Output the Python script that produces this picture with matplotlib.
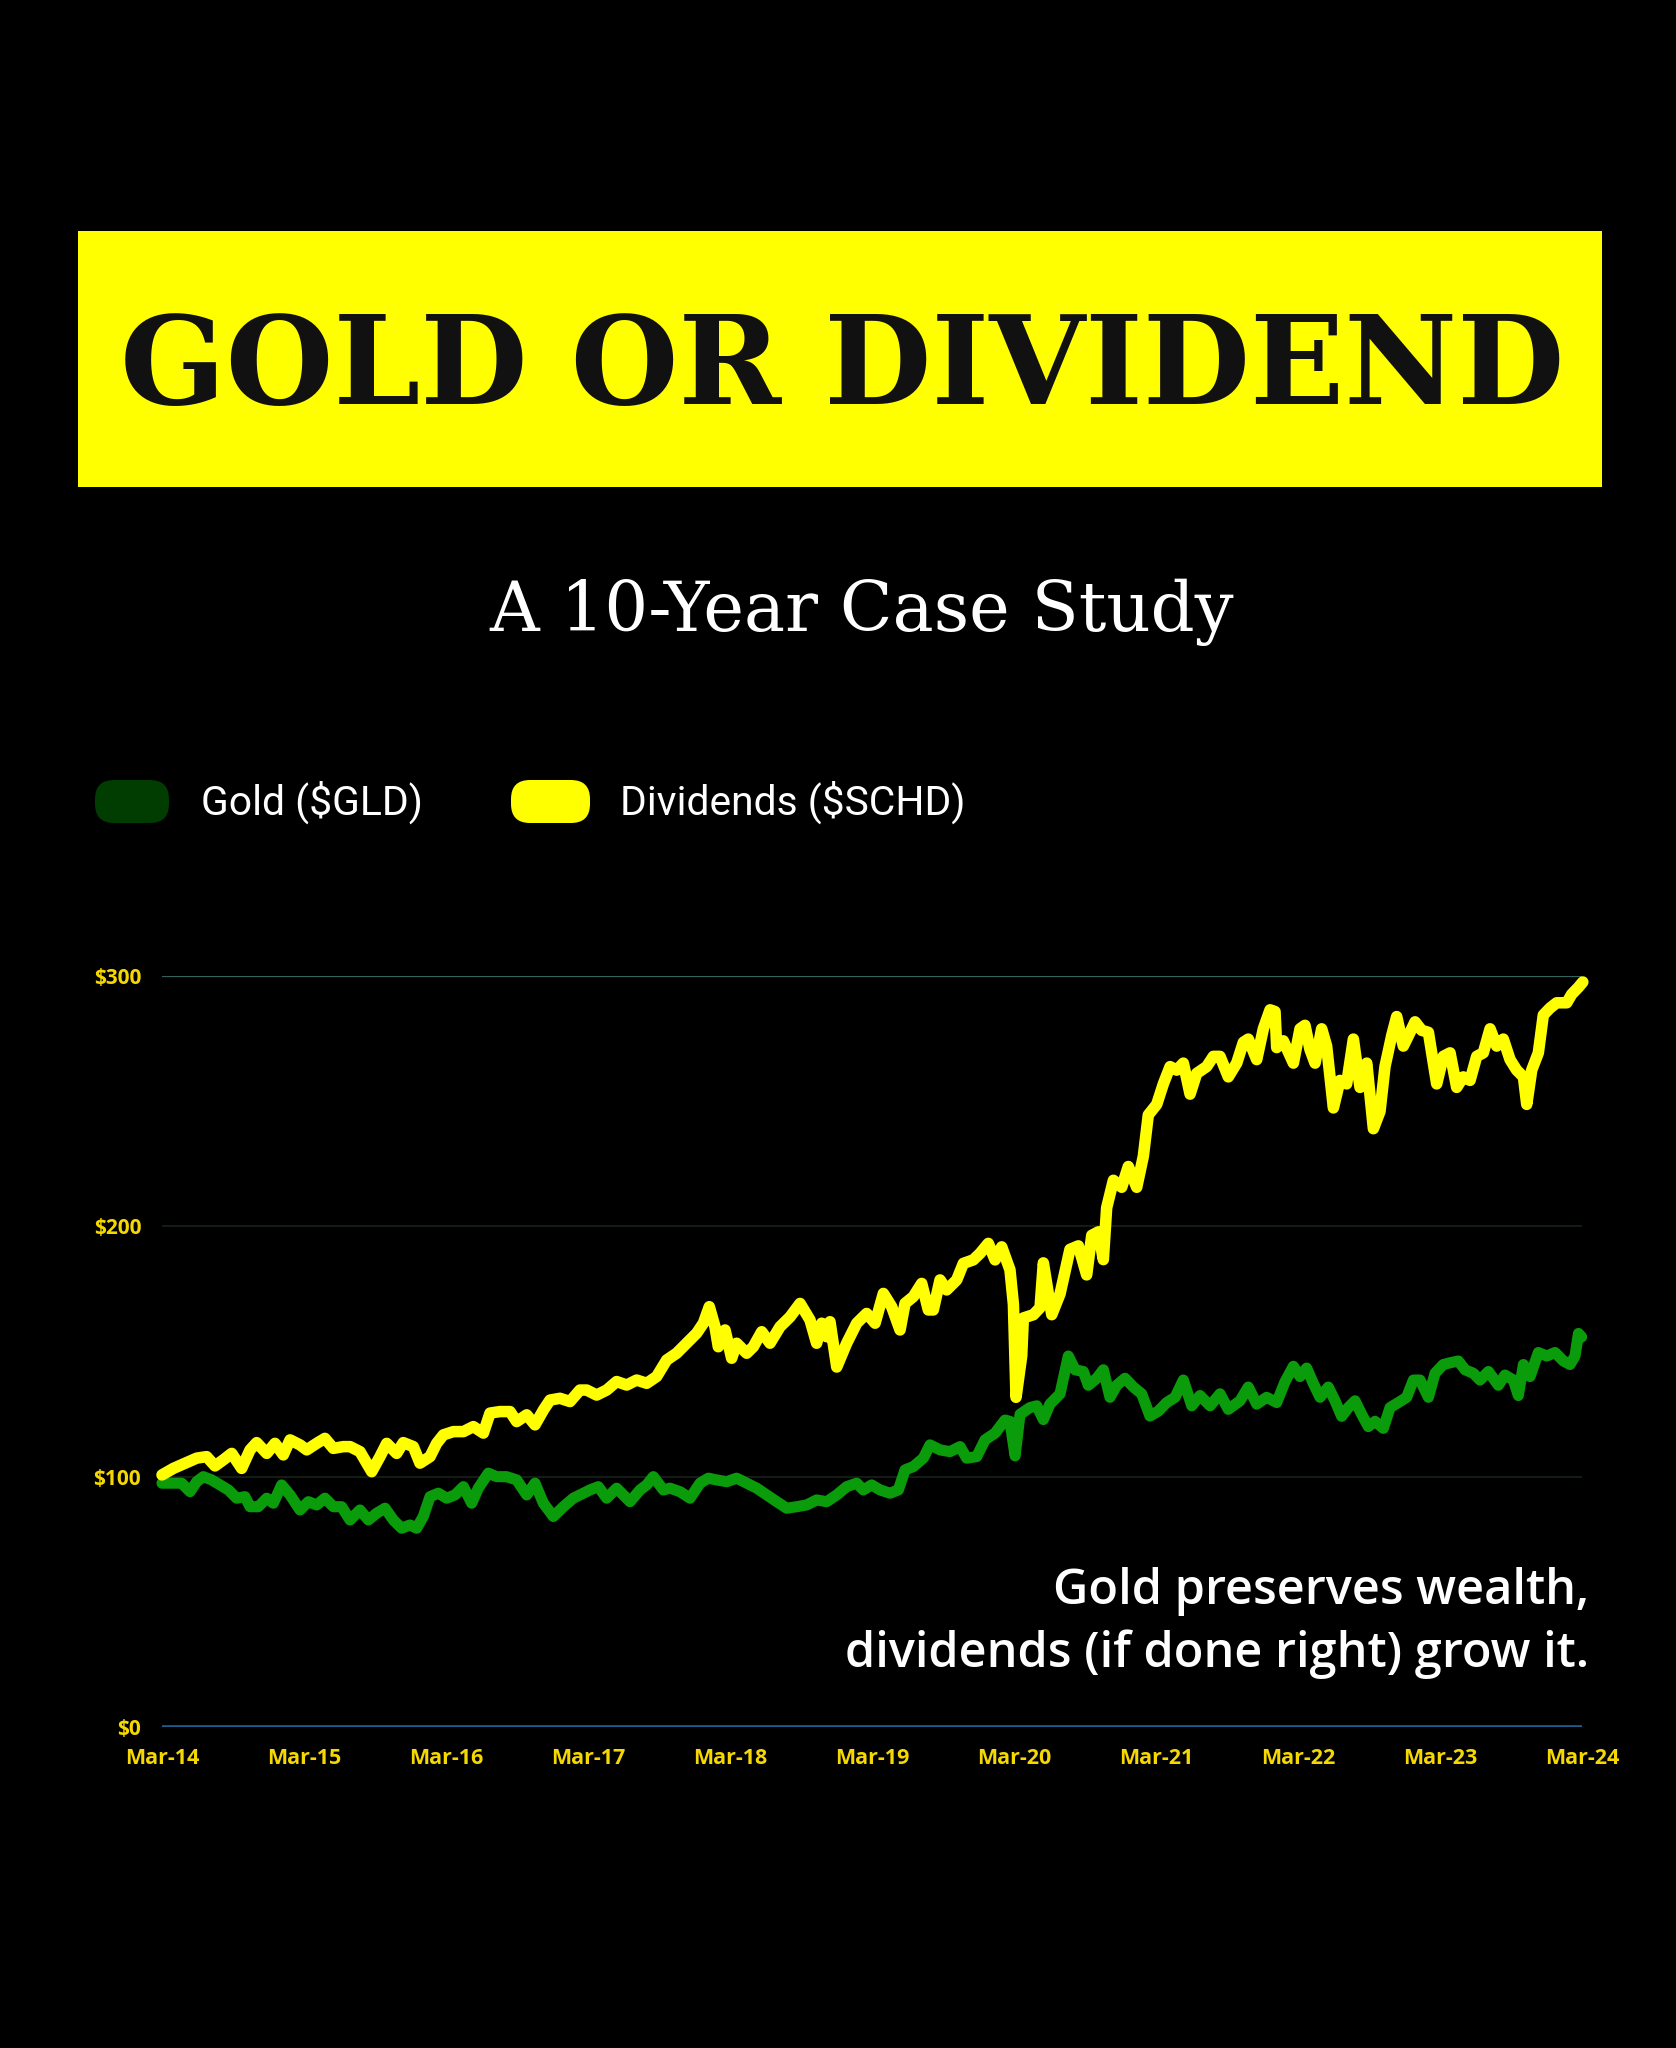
import matplotlib
matplotlib.use("Agg")
import matplotlib.pyplot as plt
from matplotlib.patches import FancyBboxPatch, Rectangle

W, H, DPI = 1676, 2048, 100

# ---------------- data ----------------
title_text = "GOLD OR DIVIDEND"
subtitle_text = "A 10-Year Case Study"
legend_labels = ["Gold ($GLD)", "Dividends ($SCHD)"]
note_lines = ["Gold preserves wealth,", "dividends (if done right) grow it."]

x_tick_months = [0, 12, 24, 36, 48, 60, 72, 84, 96, 108, 120]
x_tick_labels = ["Mar-14", "Mar-15", "Mar-16", "Mar-17", "Mar-18", "Mar-19",
                 "Mar-20", "Mar-21", "Mar-22", "Mar-23", "Mar-24"]
y_tick_values = [0, 100, 200, 300]
y_tick_labels = ["$0", "$100", "$200", "$300"]

# months since Mar-2014, value of $100 invested
schd_months = [0.00, 0.96, 1.97, 2.93, 3.77, 4.48, 5.18, 5.89, 6.73, 7.44, 8.00, 8.85,
               9.55, 10.25, 10.82, 11.66, 12.23, 13.07, 13.77, 14.48, 15.32, 15.89, 16.73,
               17.30, 17.72, 18.42, 18.99, 19.83, 20.39, 21.24, 21.80, 22.65, 23.21, 23.78,
               24.62, 25.47, 26.31, 27.16, 27.72, 28.56, 29.41, 29.97, 30.82, 31.52, 32.23,
               32.79, 33.63, 34.48,
               35.32, 35.89, 36.73, 37.58, 38.42, 39.27, 40.11, 40.96, 41.80, 42.65, 43.49,
               44.34, 45.18, 45.75, 46.25, 46.73, 47.01, 47.58, 48.14, 48.56, 49.41, 49.97,
               50.68, 51.38, 52.23, 53.07, 53.92, 54.76, 55.32, 55.75, 56.17, 56.45, 57.02,
               57.86, 58.71, 59.55, 60.26, 60.96, 61.66, 62.37, 62.79, 63.49, 64.20, 64.76,
               65.18, 65.75, 66.31, 67.16, 67.72, 68.56, 69.13, 69.83, 70.40, 70.96,
               71.66, 71.95, 72.17, 72.65, 72.79, 73.64, 74.20, 74.48, 75.19, 75.89, 76.73,
               77.44, 78.14, 78.57, 79.13, 79.55, 79.83, 80.40, 81.10, 81.66, 82.37, 82.93,
               83.35, 84.06, 84.62, 85.19, 85.75, 86.31, 86.88, 87.44, 88.28, 88.85, 89.41,
               90.11, 90.82, 91.38, 91.80, 92.51, 93.07, 93.64, 94.06, 94.20, 94.76, 95.61,
               96.17, 96.59, 97.01, 97.44, 98.00, 98.42, 98.99, 99.55, 100.11, 100.68,
               101.24, 101.81, 102.37, 102.93, 103.35, 103.92, 104.34, 104.90, 105.47,
               105.89, 106.45, 107.02, 107.72, 108.28, 108.85, 109.41, 109.97, 110.54,
               111.10, 111.66, 112.23, 112.79, 113.35, 113.92, 114.48, 115.05, 115.33,
               115.75, 116.31, 116.73, 117.30, 117.86, 118.71, 119.13, 119.70, 120.07]
schd_values = [100.7, 103.3, 105.4, 107.4, 108.0, 104.3, 106.7, 109.3, 103.3, 110.7, 113.6, 109.3,
               113.3, 108.7, 114.7, 112.7, 110.7, 113.3, 115.3, 111.3, 112.0, 112.0, 110.0,
               105.4, 102.0, 108.0, 113.3, 109.3, 113.6, 112.0, 105.4, 108.0, 113.3, 116.7,
               118.0, 118.0, 120.0, 117.4, 125.4, 126.0, 126.0, 122.0, 124.7, 120.7, 126.6,
               130.6, 131.3, 130.0,
               134.6, 134.6, 132.6, 134.6, 138.0, 136.6, 138.6, 137.3, 140.0, 146.6, 149.3,
               153.3, 157.3, 161.3, 167.9, 159.9, 151.9, 158.6, 147.3, 153.3, 149.3, 151.9,
               157.9, 153.3, 159.9, 163.8, 169.2, 162.6, 153.3, 161.3, 155.9, 161.9, 143.8,
               153.3, 161.3, 165.2, 161.3, 173.2, 167.9, 158.6, 169.2, 171.9, 177.2, 166.6,
               166.6, 178.6, 174.6, 178.6, 185.2, 186.6, 189.2, 193.2, 186.6, 191.8,
               182.6, 168.8, 131.7, 148.2, 163.4, 164.7, 167.5, 185.4, 164.7, 173.0, 190.8,
               192.2, 180.6, 196.4, 197.8, 186.7, 207.4, 218.4, 215.6, 223.9, 215.6, 228.0,
               244.5, 248.7, 256.9, 263.8, 262.4, 265.2, 252.8, 261.1, 263.8, 267.9, 267.9,
               259.7, 265.2, 273.5, 274.8, 266.6, 278.9, 286.5, 285.8, 271.4, 274.1, 265.2,
               278.9, 280.3, 270.7, 265.2, 278.9, 272.0, 247.3, 258.3, 256.9, 274.8,
               255.5, 265.2, 239.0, 245.9, 263.8, 276.2, 283.8, 272.0, 277.5,
               281.7, 278.3, 277.5, 256.9, 267.9, 269.3, 255.5, 259.7, 258.3,
               267.9, 269.3, 278.9, 272.0, 274.8, 266.6, 262.4, 259.7, 248.7,
               262.4, 269.3, 284.4, 287.2, 289.3, 289.3, 292.7, 295.5, 297.6]

gld_months = [0.00, 0.96, 1.66, 2.37, 2.93, 3.49, 4.20, 4.90, 5.61, 6.31, 7.01, 7.44, 8.14,
              8.85, 9.41, 10.11, 10.82, 11.66, 12.37, 13.07, 13.77, 14.48, 15.18, 15.89,
              16.73, 17.44, 18.14, 18.85, 19.55, 20.25, 20.96, 21.52, 22.08, 22.65, 23.35,
              24.06, 24.76, 25.47, 26.17, 26.73, 27.58, 28.28, 29.13, 29.97, 30.82, 31.52,
              32.23, 33.07, 33.92, 34.76,
              35.32, 36.17, 36.87, 37.58, 38.42, 39.55, 40.40, 40.96, 41.52, 42.37, 42.93,
              43.78, 44.62, 45.47, 46.17, 46.87, 47.72, 48.56, 49.41, 50.26, 51.10, 51.95,
              52.79, 53.64, 54.48, 55.32, 56.17, 57.02, 57.86, 58.71, 59.27, 59.97, 60.68,
              61.52, 62.23, 62.79, 63.49, 64.34, 64.90, 65.75, 66.59, 67.44, 68.00, 68.85,
              69.55, 70.40, 71.24,
              71.66, 72.09, 72.51, 73.35, 73.92, 74.48, 75.04, 75.89, 76.59, 77.16, 77.86,
              78.28, 78.99, 79.55, 80.11, 80.68, 81.38, 82.09, 82.79, 83.49, 84.20, 84.90,
              85.61, 86.31, 87.02, 87.72, 88.57, 89.41, 90.11, 91.10, 91.80, 92.51, 93.35,
              94.20, 94.90, 95.61,
              96.17, 96.73, 97.30, 97.86, 98.56, 99.13, 99.69, 100.25, 100.82, 101.38,
              101.94, 102.51, 103.21, 103.78, 104.48, 105.18, 105.75, 106.31, 107.02,
              107.58, 108.28, 108.85, 109.55, 110.12, 110.82, 111.38, 112.09, 112.93,
              113.49, 114.20, 114.62, 115.05, 115.61, 116.31, 117.02, 117.72, 118.43,
              118.99, 119.41, 119.70, 119.97]
gld_values = [97.4, 97.4, 97.4, 94.0, 98.0, 100.0, 98.7, 96.7, 94.7, 91.4, 92.0, 88.0, 88.0,
              91.4, 89.4, 96.7, 92.7, 86.7, 90.0, 88.7, 91.4, 88.0, 88.0, 82.7,
              86.7, 82.7, 85.4, 87.4, 82.7, 79.4, 80.7, 79.4, 84.1, 92.0, 93.4,
              91.4, 92.7, 96.0, 89.4, 95.4, 101.4, 100.0, 100.0, 98.7, 92.7, 97.4,
              89.4, 84.1, 88.0, 91.4,
              92.7, 94.7, 96.0, 91.4, 95.4, 90.0, 94.7, 96.7, 100.0, 94.7, 95.4,
              94.0, 91.4, 97.4, 99.4, 98.7, 98.0, 99.4, 97.4, 95.4, 92.7, 90.0,
              87.4, 88.0, 88.7, 90.7, 90.0, 92.7, 96.0, 97.4, 94.7, 96.7, 94.7,
              93.4, 94.7, 102.7, 104.0, 107.4, 112.7, 110.7, 110.0, 112.0, 107.4, 108.0,
              114.7, 117.4, 122.6,
              122.1, 108.3, 124.9, 127.6, 128.3, 122.8, 129.0, 133.1, 148.2, 142.7, 142.0,
              136.5, 139.3, 142.7, 131.7, 136.5, 139.3, 135.8, 133.1, 124.2, 126.2, 129.6,
              131.7, 138.6, 128.3, 132.4, 128.3, 133.1, 126.9, 130.3, 135.8, 129.0, 131.7,
              129.6, 137.9, 144.1,
              140.0, 143.4, 137.2, 131.7, 135.8, 130.3, 124.1, 127.6, 130.3, 124.9,
              120.0, 122.1, 119.3, 127.6, 129.6, 131.7, 138.6, 138.6, 131.7,
              141.3, 144.8, 145.5, 146.2, 142.7, 141.3, 138.6, 142.0, 136.5,
              140.6, 138.6, 132.4, 144.8, 140.0, 149.6, 148.2, 149.6, 146.2,
              144.8, 148.2, 157.2, 155.8]

# ---------------- styles ----------------
BG = "#000000"
YELLOW = "#ffff00"
GREEN_LINE = "#0a9c0a"
GREEN_PATCH = "#013c01"
TICK_COLOR = "#f5d800"

fig = plt.figure(figsize=(W / DPI, H / DPI), dpi=DPI, facecolor=BG)
tr = fig.dpi_scale_trans


def P(x, y):
    """image pixel (from top-left) -> inches from bottom-left"""
    return (x / DPI, (H - y) / DPI)


# Banner
bx0, by0, bx1, by1 = 78, 231, 1602, 487
fig.add_artist(Rectangle(P(bx0, by1), (bx1 - bx0) / DPI, (by1 - by0) / DPI,
                         transform=tr, facecolor=YELLOW, edgecolor="none"))

serif_fam = ["DejaVu Serif Condensed", "DejaVu Serif"]
t_title = fig.text(*P(842, 416), title_text, transform=tr, ha="center", va="baseline",
                   fontsize=100, fontweight="bold", family=serif_fam, color="#111111")
t_sub = fig.text(*P(862, 631), subtitle_text, transform=tr, ha="center", va="baseline",
                 fontsize=55, family=serif_fam, color="white")

# Legend
pill_y0, pill_y1 = 780, 823
for (x0, x1), col in [((95, 169), GREEN_PATCH), ((511, 590), YELLOW)]:
    fig.add_artist(FancyBboxPatch(P(x0, pill_y1), (x1 - x0) / DPI, (pill_y1 - pill_y0) / DPI,
                                  boxstyle="round,pad=0,rounding_size=0.19",
                                  transform=tr, facecolor=col, edgecolor="none"))
t_leg1 = fig.text(*P(201, 815), legend_labels[0], transform=tr, ha="left", va="baseline",
                  fontsize=29, family=["Roboto", "DejaVu Sans"], color="white")
t_leg2 = fig.text(*P(620, 815), legend_labels[1], transform=tr, ha="left", va="baseline",
                  fontsize=29, family=["Roboto", "DejaVu Sans"], color="white")

# Note
note_fam = ["Open Sans", "DejaVu Sans"]
t_n1 = fig.text(*P(1589, 1604), note_lines[0], transform=tr, ha="right", va="baseline",
                fontsize=33, family=note_fam, fontweight="semibold", color="white")
t_n2 = fig.text(*P(1589, 1667), note_lines[1], transform=tr, ha="right", va="baseline",
                fontsize=33, family=note_fam, fontweight="semibold", color="white")

# Chart axes
ax_l, ax_r, ax_t, ax_b = 162, 1582, 976, 1727
ax = fig.add_axes([ax_l / W, 1 - ax_b / H, (ax_r - ax_l) / W, (ax_b - ax_t) / H])
ax.set_facecolor(BG)
ax.set_xlim(0, 120)
ax.set_ylim(0, 300)
for s in ax.spines.values():
    s.set_visible(False)

ax.axhline(300, color="#35635c", lw=1.6, zorder=1)
ax.axhline(200, color="#141e19", lw=1.3, zorder=1)
ax.axhline(100, color="#141e19", lw=1.3, zorder=1)
ax.axhline(0, color="#1f5b8e", lw=2.6, zorder=1)

ax.plot(gld_months, gld_values, color=GREEN_LINE, lw=8, solid_joinstyle="round",
        solid_capstyle="round", clip_on=False, zorder=3)
ax.plot(schd_months, schd_values, color=YELLOW, lw=8.3, solid_joinstyle="round",
        solid_capstyle="round", clip_on=False, zorder=4)

ax.set_xticks(x_tick_months)
ax.set_xticklabels(x_tick_labels, family=["Open Sans", "DejaVu Sans"], fontweight="bold",
                   fontsize=15.5, color=TICK_COLOR)
ax.set_yticks(y_tick_values)
ax.set_yticklabels(y_tick_labels, family=["Open Sans", "DejaVu Sans"], fontweight="bold",
                   fontsize=15, color=TICK_COLOR)
ax.tick_params(axis="x", length=0, pad=15)
ax.tick_params(axis="y", length=0, pad=15)

# Fit text widths to the reference
fig.canvas.draw()
rend = fig.canvas.get_renderer()


def fit(t, target_w):
    bb = t.get_window_extent(rend)
    t.set_fontsize(t.get_fontsize() * target_w / bb.width)


fit(t_title, 1445)
# keep the title's capitals vertically centred in the banner (cap centre at y=359)
cap_px = 0.729 * t_title.get_fontsize() * DPI / 72
t_title.set_position(P(842, 359 + cap_px / 2))
fit(t_sub, 744)
fit(t_leg1, 222)
fit(t_leg2, 345)
fit(t_n2, 745)
t_n1.set_fontsize(t_n2.get_fontsize())

fig.savefig("out.png", dpi=DPI, facecolor=BG)
